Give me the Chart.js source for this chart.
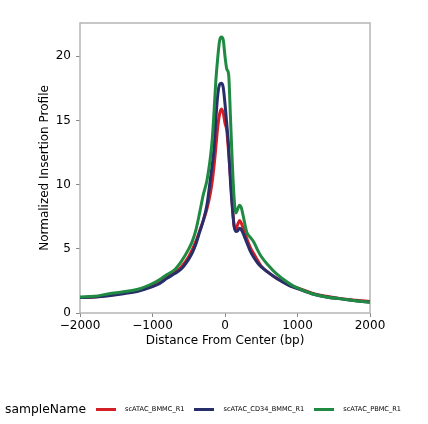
<!DOCTYPE html>
<html>
<head>
<meta charset="utf-8">
<script src="https://cdn.jsdelivr.net/npm/chart.js@4"></script>
<style>
  html, body { margin: 0; padding: 0; background: #fff; }
  #wrap { position: relative; width: 428px; height: 424px; }
  #legend {
    position: absolute; left: 5px; top: 400px; height: 18px;
    display: flex; align-items: center; font-family: "DejaVu Sans", sans-serif;
  }
  #legend .title { font-size: 12.3px; color: #000; margin-right: 10px; }
  #legend .item { display: flex; align-items: center; margin-right: 10px; }
  #legend .swatch { width: 20px; height: 3px; margin-right: 9px; }
  #legend .label { font-size: 6.6px; color: #000; }
</style>
</head>
<body>
<div id="wrap">
  <canvas id="chart" width="428" height="424"></canvas>
  <div id="legend"></div>
</div>
<script>
// позиции (bp от центра) и профили вставок
const positions = [-2000, -1800, -1600, -1400, -1200, -1000, -900, -800, -700, -600,
  -500, -450, -400, -350, -300, -250, -200, -175, -150, -125,
  -100, -75, -50, -25, 0, 25, 50, 75, 100, 125,
  150, 175, 200, 225, 250, 300, 350, 400, 450, 500,
  600, 700, 800, 900, 1000, 1200, 1400, 1600, 1800, 2000];

const bmmc = [1.2, 1.25, 1.38, 1.55, 1.75, 2.1, 2.4, 2.8, 3.15, 3.6,
  4.4, 4.95, 5.6, 6.4, 7.2, 8.1, 9.4, 10.3, 11.5, 13.0,
  14.5, 15.5, 15.9, 15.6, 14.8, 14.2, 12.5, 10.6, 8.5, 6.8,
  6.5, 6.9, 7.2, 7.0, 6.6, 5.8, 5.1, 4.6, 4.1, 3.65,
  3.15, 2.75, 2.45, 2.15, 1.95, 1.55, 1.3, 1.12, 1.0, 0.9];

const cd34 = [1.2, 1.25, 1.35, 1.5, 1.7, 2.05, 2.3, 2.7, 3.05, 3.45,
  4.2, 4.7, 5.4, 6.3, 7.2, 8.4, 10.5, 11.6, 12.9, 15.2,
  17.0, 17.8, 17.9, 17.6, 16.3, 14.7, 12.9, 10.3, 8.3, 6.8,
  6.35, 6.4, 6.6, 6.5, 6.2, 5.5, 4.8, 4.3, 3.9, 3.6,
  3.15, 2.75, 2.4, 2.1, 1.9, 1.5, 1.25, 1.1, 0.95, 0.85];

const pbmc = [1.25, 1.3, 1.5, 1.65, 1.85, 2.3, 2.6, 3.0, 3.35, 4.05,
  5.0, 5.6, 6.5, 7.8, 9.2, 10.3, 12.2, 13.6, 15.8, 18.2,
  19.9, 21.2, 21.5, 21.3, 20.0, 19.0, 18.6, 15.3, 11.8, 9.0,
  7.8, 8.1, 8.4, 8.2, 7.6, 6.3, 5.9, 5.5, 4.9, 4.4,
  3.7, 3.1, 2.65, 2.25, 1.95, 1.5, 1.25, 1.1, 0.95, 0.83];

const sampleNames = ["scATAC_BMMC_R1", "scATAC_CD34_BMMC_R1", "scATAC_PBMC_R1"];
const sampleColors = ["#D51F26", "#272E6A", "#208A42"];
const xTicks = [-2000, -1000, 0, 1000, 2000];
const yTicks = [0, 5, 10, 15, 20];

const FONT = "'DejaVu Sans', sans-serif";
const GREY = "#b5b5b5";

const series = [bmmc, cd34, pbmc];
const datasets = series.map((vals, i) => ({
  label: sampleNames[i],
  data: positions.map((x, j) => ({ x, y: vals[j] })),
  borderColor: sampleColors[i],
  borderWidth: 3,
  pointRadius: 0,
  cubicInterpolationMode: "monotone",
  order: 3 - i,
}));

// рамка вокруг области графика
const boxPlugin = {
  id: "box",
  beforeDatasetsDraw(chart) {
    const { ctx, chartArea: a } = chart;
    ctx.save();
    ctx.strokeStyle = GREY;
    ctx.lineWidth = 1.5;
    ctx.strokeRect(a.left, a.top, a.right - a.left, a.bottom - a.top);
    ctx.restore();
  },
};

new Chart(document.getElementById("chart"), {
  type: "line",
  data: { datasets },
  options: {
    responsive: false,
    animation: false,
    layout: { padding: { left: 34, top: 23, right: 58, bottom: 72 } },
    plugins: { legend: { display: false }, tooltip: { enabled: false } },
    scales: {
      x: {
        type: "linear",
        min: -2000, max: 2000,
        afterBuildTicks: s => { s.ticks = xTicks.map(v => ({ value: v })); },
        afterFit: s => { s.height = 39; },
        ticks: {
          color: "#000", padding: 2, maxRotation: 0,
          font: { family: FONT, size: 12 },
          callback: v => String(v).replace("-", "\u2212"),
        },
        grid: { drawOnChartArea: false, tickLength: 4, tickColor: "#888" },
        border: { display: false },
        title: { display: true, text: "Distance From Center (bp)", color: "#000", font: { family: FONT, size: 12 }, padding: { top: 2, bottom: 4 } },
      },
      y: {
        min: 0, max: 22.6,
        afterBuildTicks: s => { s.ticks = yTicks.map(v => ({ value: v })); },
        afterFit: s => { s.width = 46; },
        ticks: { color: "#000", padding: 5, font: { family: FONT, size: 12 } },
        grid: { drawOnChartArea: false, tickLength: 4, tickColor: "#888" },
        border: { display: false },
        title: { display: true, text: "Normalized Insertion Profile", color: "#000", font: { family: FONT, size: 12 }, padding: 4 },
      },
    },
  },
  plugins: [boxPlugin],
});

// легенда снизу
const legend = document.getElementById("legend");
legend.innerHTML = `<span class="title">sampleName</span>` + sampleNames.map((n, i) => `
  <span class="item"><span class="swatch" style="background:${sampleColors[i]}"></span><span class="label">${n}</span></span>
`).join("");
</script>
</body>
</html>
